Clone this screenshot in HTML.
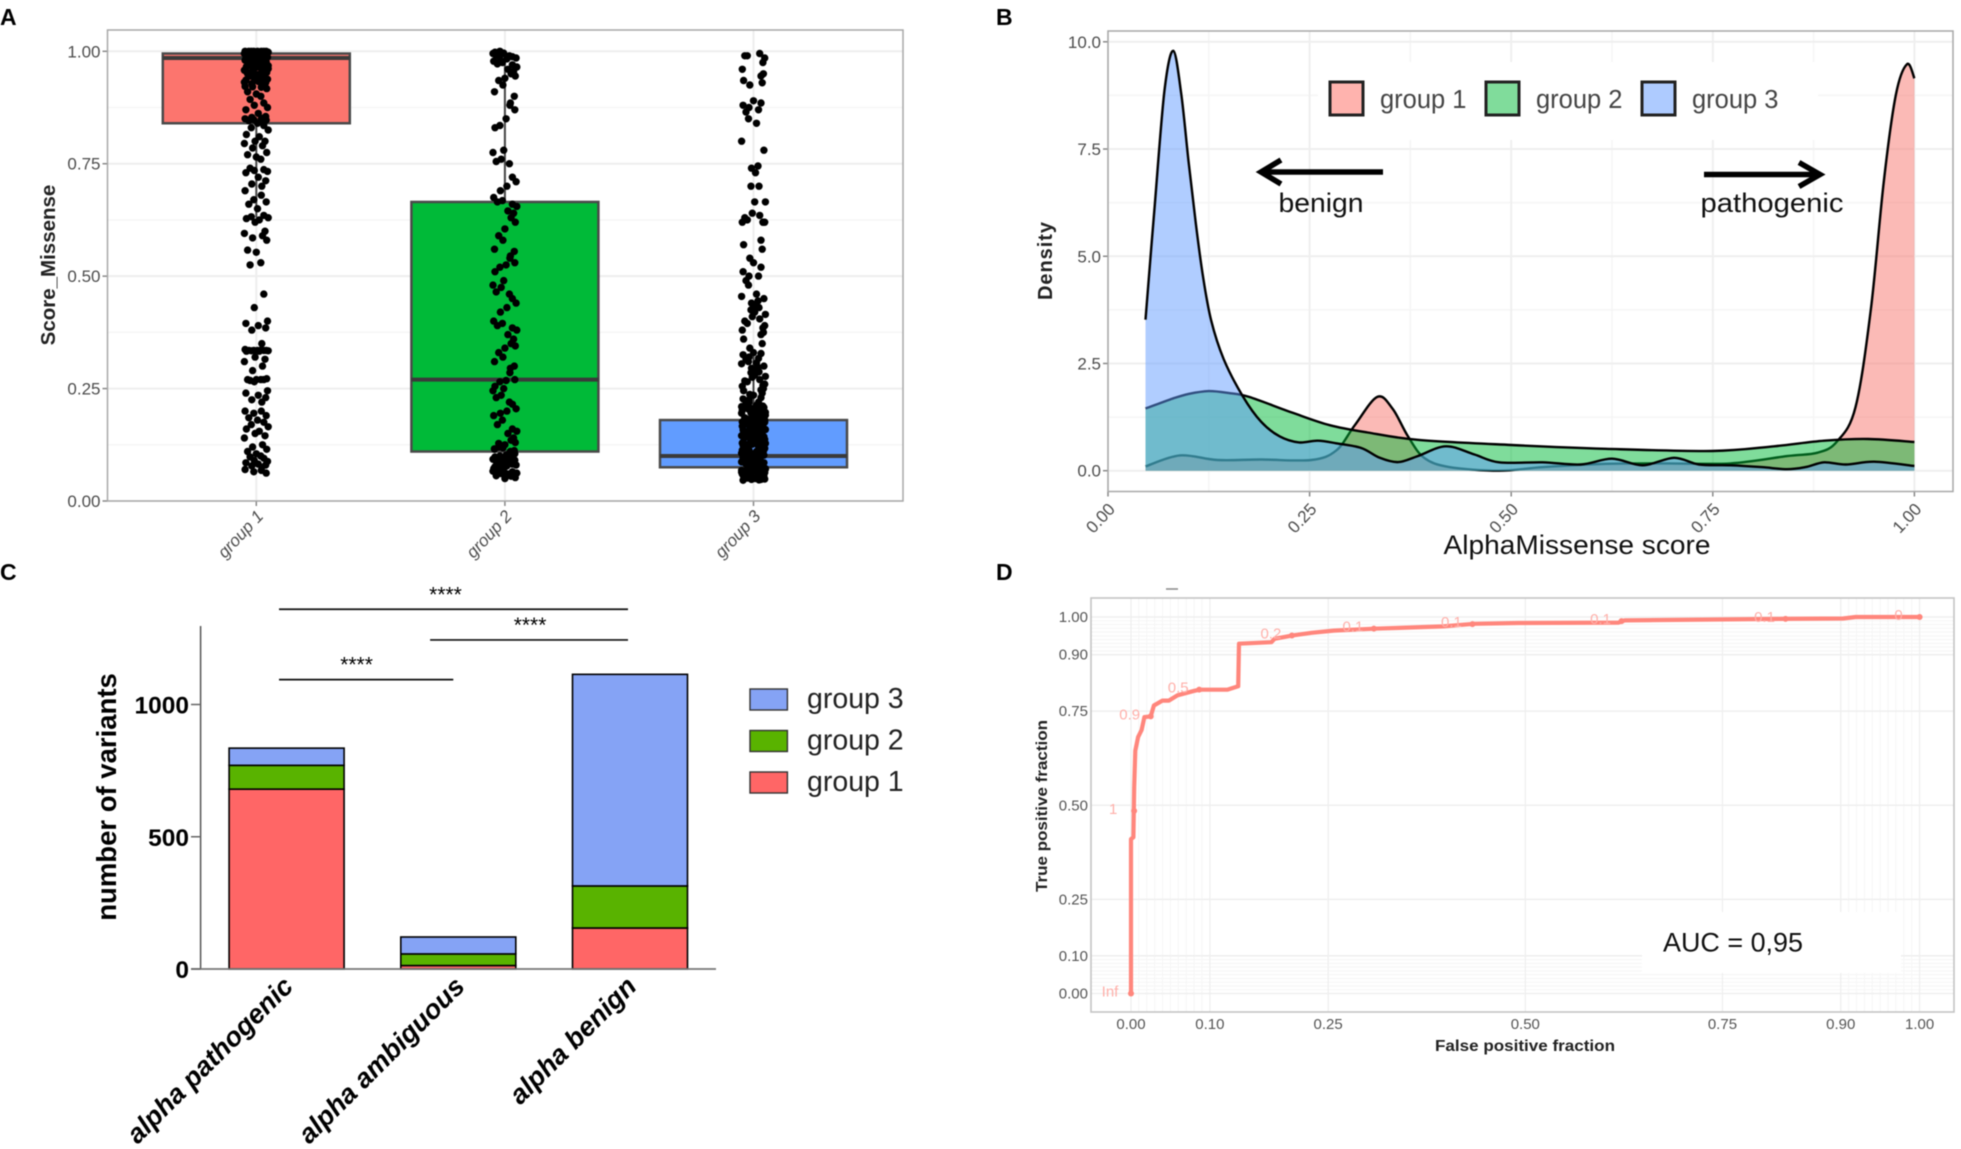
<!DOCTYPE html>
<html lang="en">
<head>
<meta charset="utf-8">
<title>AlphaMissense figure</title>
<style>
html,body{margin:0;padding:0;background:#fff}
svg{display:block;font-family:"Liberation Sans",sans-serif;filter:blur(0.4px)}
.tk{fill:#4d4d4d;font-size:17px}
.tkd{fill:#555;font-size:15px}
.panel{font-weight:700;font-size:23px;fill:#000}
.ttl{font-weight:700;fill:#222}
</style>
</head>
<body>
<svg id="fig" width="1961" height="1149" viewBox="0 0 1961 1149" xmlns="http://www.w3.org/2000/svg">
  <text class="panel" x="0" y="25">A</text>
  <text class="panel" x="996" y="25">B</text>
  <text class="panel" x="0" y="580">C</text>
  <text class="panel" x="996" y="580">D</text>
  <g id="panelA"></g>
  <g id="panelB"></g>
  <g id="panelC"></g>
  <g id="panelD"></g>
</svg>
<script>
/* ---------- Panel A data ---------- */
const boxGroups = ["group 1","group 2","group 3"];
const boxQ1 = [0.84,0.11,0.075];
const boxMedian = [0.985,0.27,0.10];
const boxQ3 = [0.995,0.665,0.18];
const whiskerLow = [0.63,0.05,0.05];
const whiskerHigh = [1,1,0.33];
const boxColors = ["#FC756E","#00BA38","#619CFF"];
const boxTicks = [0,0.25,0.5,0.75,1];
const jitterCycle = [-.045,.02,-.01,.04,-.03,.005,.03,-.02,.048,-.04,.012,-.005,.035,-.048,.025,-.015,.042,-.035,0,.018,-.025,.03,-.008,.045,-.042,.008,.038,-.018,.022];
const scoresGroup1 = [1,1,1,1,1,1,1,1,.998,.998,.997,.997,.996,.995,.995,.994,.993,.992,.991,.99,.99,.989,.988,.987,.986,.985,.984,.983,.982,.98,.98,.978,.977,.975,.974,.972,.97,.968,.966,.965,.963,.96,.958,.956,.955,.953,.95,.948,.946,.945,.943,.94,.938,.936,.933,.93,.928,.925,.922,.92,.996,.99,.984,.979,.973,.967,.961,.955,.949,.943,.937,.931,.926,.921,.917,.91,.905,.9,.893,.885,.88,.875,.87,.862,.855,.853,.851,.85,.849,.848,.847,.846,.84,.835,.83,.825,.815,.81,.8,.8,.795,.79,.785,.775,.77,.765,.76,.74,.737,.735,.733,.73,.72,.712,.705,.7,.69,.68,.67,.665,.66,.65,.635,.632,.63,.628,.625,.62,.6,.595,.59,.585,.58,.558,.553,.53,.525,.46,.43,.4,.395,.39,.385,.38,.35,.337,.336,.335,.335,.335,.335,.335,.334,.334,.333,.333,.32,.315,.31,.3,.29,.272,.27,.27,.27,.268,.27,.265,.245,.24,.235,.23,.225,.22,.2,.2,.195,.19,.185,.18,.175,.17,.165,.16,.155,.15,.145,.14,.125,.12,.115,.11,.105,.1,.098,.095,.09,.088,.085,.082,.08,.078,.075,.07,.068,.065,.062];
const scoresGroup2 = [1,.998,.996,.995,.993,.99,.99,.988,.985,.983,.98,.978,.975,.972,.97,.965,.96,.955,.95,.945,.94,.935,.925,.91,.9,.885,.88,.87,.85,.835,.83,.78,.775,.76,.755,.75,.72,.71,.7,.69,.675,.668,.665,.66,.655,.645,.64,.63,.62,.605,.59,.58,.56,.555,.545,.54,.53,.525,.52,.51,.49,.48,.475,.465,.46,.45,.44,.43,.42,.4,.395,.39,.385,.38,.37,.36,.35,.345,.34,.33,.32,.31,.3,.295,.285,.27,.268,.265,.255,.25,.245,.235,.23,.22,.215,.205,.2,.195,.19,.18,.17,.16,.155,.15,.14,.135,.13,.125,.12,.118,.115,.112,.11,.108,.105,.102,.1,.098,.095,.093,.09,.088,.085,.082,.08,.078,.075,.072,.07,.068,.065,.062,.06,.058,.055,.052,.05,.128,.122,.116,.109,.103,.097,.091,.086,.081,.076,.071,.066,.061,.056];
const scoresGroup3 = [.995,.99,.99,.985,.975,.96,.95,.945,.935,.93,.925,.89,.885,.88,.875,.87,.865,.85,.84,.8,.78,.745,.74,.73,.7,.7,.665,.665,.64,.635,.63,.625,.62,.62,.62,.62,.58,.57,.56,.54,.53,.52,.51,.5,.5,.49,.48,.46,.455,.45,.445,.44,.435,.43,.425,.42,.415,.41,.405,.4,.395,.39,.385,.38,.375,.37,.36,.35,.34,.33,.328,.325,.32,.317,.315,.31,.307,.305,.3,.297,.295,.29,.287,.285,.28,.277,.275,.27,.267,.265,.26,.257,.255,.25,.247,.245,.24,.237,.235,.23,.227,.225,.22,.218,.215,.213,.21,.208,.205,.203,.2,.198,.196,.194,.191,.189,.187,.185,.182,.18,.178,.176,.174,.171,.169,.167,.165,.163,.16,.158,.156,.154,.151,.149,.147,.145,.143,.14,.138,.136,.134,.132,.13,.128,.126,.123,.121,.119,.117,.115,.113,.111,.109,.107,.105,.103,.101,.099,.097,.096,.094,.092,.09,.088,.087,.085,.083,.081,.079,.078,.076,.074,.072,.07,.069,.067,.065,.063,.062,.06,.058,.057,.055,.053,.052,.05,.048,.046,.219,.214,.209,.204,.199,.195,.19,.186,.181,.177,.172,.168,.164,.159,.155,.15,.146,.142,.137,.133,.129,.125,.12,.116,.112,.108,.104,.1,.095,.091,.086,.082,.077,.073,.068,.064,.059,.054,.05,.047,.206,.201,.197,.193,.188,.184,.179,.175,.17,.166,.161,.157,.153,.148,.144,.139,.135,.131,.127,.122,.118,.114,.11,.106,.102,.098,.093,.089,.084,.08,.075,.071,.066,.061,.056,.051,.049,.211,.202,.192,.183,.173,.162,.152,.141,.13,.124,.113,.103,.094,.083,.074,.064,.055,.051,.048];
const scoreSeries = [scoresGroup1,scoresGroup2,scoresGroup3];

/* ---------- Panel B data ---------- */
const densityTicksY = [0,2.5,5,7.5,10];
const densityTicksX = [0,0.25,0.5,0.75,1];
const densityGridMinorY = [1.25,3.75,6.25,8.75];
const densityGridMinorX = [0.125,0.375,0.625,0.875];
const densityNames = ["group 1","group 2","group 3"];
const densityFills = ["rgba(248,118,109,0.5)","rgba(0,186,56,0.5)","rgba(97,156,255,0.5)"];
const group1X = [.0465,.089,.136,.19,.252,.283,.306,.334,.353,.372,.392,.423,.485,.54,.617,.694,.772,.842,.88,.904,.927,.946,.962,.977,.991,1];
const group1Y = [.1,.356,.25,.26,.25,.47,1.06,1.72,1.44,.8,.3,.085,0,.085,.16,.17,.17,.34,.42,.68,1.48,3.77,6.74,8.77,9.48,9.15];
const group2X = [.0465,.08,.1,.125,.15,.175,.229,.275,.322,.384,.5,.617,.749,.826,.888,.943,1];
const group2Y = [1.45,1.68,1.79,1.855,1.81,1.72,1.35,1.06,.89,.72,.6,.51,.46,.57,.7,.74,.67];
const group3X = [.0465,.058,.07,.081,.091,.1,.109,.118,.128,.1435,.167,.19,.213,.237,.26,.283,.314,.337,.36,.384,.419,.454,.485,.539,.586,.625,.663,.702,.733,.772,.81,.842,.865,.888,.915,.95,1];
const group3Y = [3.52,6.2,8.85,9.79,8.76,7.2,5.75,4.5,3.5,2.6,1.74,1.14,.8,.66,.7,.64,.53,.3,.2,.34,.57,.38,.195,.195,.144,.28,.127,.3,.144,.127,.085,.034,.085,.195,.144,.21,.11];
const densityXs = [group1X,group2X,group3X];
const densityYs = [group1Y,group2Y,group3Y];

/* ---------- Panel C data ---------- */
const barCategories = ["alpha pathogenic","alpha ambiguous","alpha benign"];
const barGroup1 = [680,13,155];
const barGroup2 = [90,44,159];
const barGroup3 = [65,64,800];
const barStacks = [barGroup1,barGroup2,barGroup3];
const barColors = ["#FF6666","#59B300","#85A3F5"];
const barTicks = [0,500,1000];
const barLegend = ["group 3","group 2","group 1"];
const barLegendColors = ["#85A3F5","#59B300","#FF6666"];
const sigFrom = [0,0.88,0];
const sigTo = [2,2,1];
const sigLevel = [1360,1244,1094];

/* ---------- Panel D data ---------- */
const rocFpr = [0,0,.003,.004,.0055,.009,.0135,.017,.025,.029,.04,.048,.059,.0785,.0865,.122,.136,.137,.178,.182,.205,.229,.257,.308,.396,.435,.491,.618,.626,.824,.903,.919,1];
const rocTpr = [0,.41,.415,.548,.645,.681,.7,.734,.736,.765,.778,.778,.792,.803,.807,.807,.816,.929,.933,.942,.951,.958,.964,.969,.975,.982,.984,.985,.991,.995,.996,1,1];
const cutFpr = [0,.004,.025,.0865,.204,.308,.433,.622,.83,1];
const cutTpr = [0,.485,.736,.807,.951,.969,.981,.989,.995,1];
const cutLabels = ["Inf","1","0.9","0.5","0.2","0.1","0.1","0.1","0.1","0"];
const rocTicks = [0,0.1,0.25,0.5,0.75,0.9,1];
const rocMinor = [.01,.02,.03,.04,.05,.06,.07,.08,.09,.91,.92,.93,.94,.95,.96,.97,.98,.99];

/* ---------- helpers ---------- */
const NS = "http://www.w3.org/2000/svg";
function mk(parent, tag, props){
  const e = document.createElementNS(NS, tag);
  for (const k in props) e.setAttribute(k, props[k]);
  parent.appendChild(e);
  return e;
}
function fmt2(v){ return v.toFixed(2); }
function smooth(xs, ys, sx, sy){
  const p = xs.map((x,i)=>[sx(x), sy(ys[i])]);
  let d = "M"+p[0][0].toFixed(1)+" "+p[0][1].toFixed(1);
  for (let i=0;i<p.length-1;i++){
    const a=p[Math.max(i-1,0)], b=p[i], c=p[i+1], e=p[Math.min(i+2,p.length-1)];
    const c1=[b[0]+(c[0]-a[0])/6, b[1]+(c[1]-a[1])/6];
    const c2=[c[0]-(e[0]-b[0])/6, c[1]-(e[1]-b[1])/6];
    d+=" C"+c1[0].toFixed(1)+" "+c1[1].toFixed(1)+" "+c2[0].toFixed(1)+" "+c2[1].toFixed(1)+" "+c[0].toFixed(1)+" "+c[1].toFixed(1);
  }
  return d;
}

/* ---------- Panel A ---------- */
(function(){
  const g = document.getElementById("panelA");
  const xA = i => 256.3 + 248.6*i;
  const yA = v => 501 - 449.7*v;
  const L=107.5,R=903,T=30,B=501;
  for (let k=0;k<boxTicks.length-1;k++){
    const mid=(boxTicks[k]+boxTicks[k+1])/2;
    const m=mk(g,"line",{x1:L,x2:R,y1:yA(mid),y2:yA(mid),stroke:"#f6f6f6","stroke-width":1.5});
    
    
  }
  boxTicks.forEach(v=>{
    const m=mk(g,"line",{x1:L,x2:R,y1:yA(v),y2:yA(v),stroke:"#eeeeee","stroke-width":2});
    
    
    const t=mk(g,"line",{x1:L-5,x2:L,y1:yA(v),y2:yA(v),stroke:"#888","stroke-width":1.5});
    
    
    const l=mk(g,"text",{x:L-7,y:yA(v)+6,"text-anchor":"end","class":"tk"});
    
    
    l.textContent=fmt2(v);
  });
  boxGroups.forEach((n,i)=>{
    const m=mk(g,"line",{x1:xA(i),x2:xA(i),y1:T,y2:B,stroke:"#eeeeee","stroke-width":2});
    
    
    const t=mk(g,"line",{x1:xA(i),x2:xA(i),y1:B,y2:B+5,stroke:"#888","stroke-width":1.5});
    
    
    const l=mk(g,"text",{x:xA(i)+8,y:517,"text-anchor":"end","class":"tk","font-style":"italic",transform:"rotate(-47 "+(xA(i)+8)+" 517)"});
    
    
    l.textContent=n;
  });
  const frame=mk(g,"rect",{x:L,y:T,width:R-L,height:B-T,fill:"none",stroke:"#a8a8a8","stroke-width":1.5});
  
  
  boxGroups.forEach((n,i)=>{
    const cx=xA(i), hw=93.5;
    const w=mk(g,"line",{x1:cx,x2:cx,y1:yA(whiskerLow[i]),y2:yA(whiskerHigh[i]),stroke:"#444","stroke-width":2});
    
    
    const r=mk(g,"rect",{x:cx-hw,y:yA(boxQ3[i]),width:2*hw,height:yA(boxQ1[i])-yA(boxQ3[i]),fill:boxColors[i],stroke:"#4a4a4a","stroke-width":2.5});
    
    
    const md=mk(g,"line",{x1:cx-hw,x2:cx+hw,y1:yA(boxMedian[i]),y2:yA(boxMedian[i]),stroke:"#3a3a3a","stroke-width":4});
    
    
  });
  scoreSeries.forEach((arr,i)=>{
    arr.forEach((s,j)=>{
      const off=jitterCycle[(j*(i+1)+i*7)%jitterCycle.length];
      const c=mk(g,"circle",{cx:(xA(i+off)).toFixed(1),cy:yA(s).toFixed(1),r:3.7,fill:"#000"});
      
      
    });
  });
  const yt=mk(g,"text",{x:0,y:0,"class":"ttl","font-size":20.5,"text-anchor":"middle",transform:"translate(55 265) rotate(-90)"});
  
  
  yt.textContent="Score_Missense";
})();

/* ---------- Panel B ---------- */
(function(){
  const g = document.getElementById("panelB");
  const xB = v => 1108 + 806.4*v;
  const yB = v => 470.7 - 42.89*v;
  const L=1108,R=1953,T=31,B=491.5;
  densityGridMinorY.forEach(v=>{
    const m=mk(g,"line",{x1:L,x2:R,y1:yB(v),y2:yB(v),stroke:"#f5f5f5","stroke-width":1.5});
    
    
  });
  densityGridMinorX.forEach(v=>{
    const m=mk(g,"line",{x1:xB(v),x2:xB(v),y1:T,y2:B,stroke:"#f5f5f5","stroke-width":1.5});
    
    
  });
  densityTicksX.forEach(v=>{
    const m=mk(g,"line",{x1:xB(v),x2:xB(v),y1:T,y2:B,stroke:"#efefef","stroke-width":2});
    
    
    const t=mk(g,"line",{x1:xB(v),x2:xB(v),y1:B,y2:B+5,stroke:"#888","stroke-width":1.5});
    
    
    const px=xB(v)+8;
    const l=mk(g,"text",{x:px,y:510,"text-anchor":"end","class":"tk",transform:"rotate(-47 "+px+" 510)"});
    
    
    l.textContent=fmt2(v);
  });
  densityTicksY.forEach(v=>{
    const m=mk(g,"line",{x1:L,x2:R,y1:yB(v),y2:yB(v),stroke:"#efefef","stroke-width":2});
    
    
    const t=mk(g,"line",{x1:L-5,x2:L,y1:yB(v),y2:yB(v),stroke:"#888","stroke-width":1.5});
    
    
    const l=mk(g,"text",{x:L-7,y:yB(v)+6,"text-anchor":"end","class":"tk"});
    
    
    l.textContent=v.toFixed(1);
  });
  const white=mk(g,"rect",{x:1318,y:62,width:500,height:78,fill:"#fff"});
  
  
  const frame=mk(g,"path",{d:"M"+L+" "+T+"H"+R+"V"+B+"H"+L+"Z",fill:"none",stroke:"#a8a8a8","stroke-width":1.5});
  
  
  densityNames.forEach((n,i)=>{
    const xs=densityXs[i], ys=densityYs[i];
    const line=smooth(xs,ys,xB,yB);
    const area=line+" L"+xB(xs[xs.length-1]).toFixed(1)+" "+yB(0).toFixed(1)+" L"+xB(xs[0]).toFixed(1)+" "+yB(0).toFixed(1)+"Z";
    const a=mk(g,"path",{d:area,fill:densityFills[i],stroke:"none"});
    
    
    const o=mk(g,"path",{d:line,fill:"none",stroke:"#000","stroke-width":2.4});
    
    
  });
  const legX=[1329,1485,1641];
  const legC=["#FFB3AE","#80DC9B","#AECBFF"];
  densityNames.forEach((n,i)=>{
    const s=mk(g,"rect",{x:legX[i]+1,y:82,width:33,height:33,fill:legC[i],stroke:"#222","stroke-width":3});
    
    
    const t=mk(g,"text",{x:legX[i]+51,y:108,"font-size":25.5,fill:"#444"});
    
    
    t.textContent=n;
  });
  const a1=mk(g,"path",{d:"M1383 172H1262M1281 160L1261 172L1281 184",fill:"none",stroke:"#000","stroke-width":5.5});
  
  
  const a2=mk(g,"path",{d:"M1704 174.5H1818M1799 162.5L1820 174.5L1799 186.5",fill:"none",stroke:"#000","stroke-width":5.5});
  
  
  const b=mk(g,"text",{x:1321,y:212,"text-anchor":"middle","font-size":27,fill:"#111",textLength:85,lengthAdjust:"spacingAndGlyphs"});
  
  
  b.textContent="benign";
  const p=mk(g,"text",{x:1772,y:212,"text-anchor":"middle","font-size":27,fill:"#111",textLength:143,lengthAdjust:"spacingAndGlyphs"});
  
  
  p.textContent="pathogenic";
  const xt=mk(g,"text",{x:1577,y:554,"text-anchor":"middle","font-size":27,fill:"#111",textLength:267,lengthAdjust:"spacingAndGlyphs"});
  
  
  xt.textContent="AlphaMissense score";
  const yt=mk(g,"text",{x:0,y:0,"class":"ttl","font-size":20,"text-anchor":"middle",textLength:78,transform:"translate(1052 261) rotate(-90)"});
  
  
  yt.textContent="Density";
})();

/* ---------- Panel C ---------- */
(function(){
  const g = document.getElementById("panelC");
  const xC = i => 286.6 + 171.7*i;
  const yC = v => 969 - 0.2645*v;
  const halfBar=57.5;
  barCategories.forEach((n,i)=>{
    let acc=0;
    barStacks.forEach((s,k)=>{
      const top=yC(acc+s[i]), bot=yC(acc);
      const r=mk(g,"rect",{x:xC(i)-halfBar,y:top,width:2*halfBar,height:bot-top,fill:barColors[k],stroke:"#000","stroke-width":1.6});
      
      
      acc+=s[i];
    });
    const lx=xC(i)+8;
    const l=mk(g,"text",{x:lx,y:988,"text-anchor":"end","font-size":27,"font-weight":700,"font-style":"italic",fill:"#000",transform:"rotate(-45 "+lx+" 988)"});
    
    
    l.textContent=n;
  });
  const ax=mk(g,"line",{x1:200.6,x2:200.6,y1:626,y2:969,stroke:"#555","stroke-width":1.5});
  
  
  const bx=mk(g,"line",{x1:191,x2:716,y1:969,y2:969,stroke:"#777","stroke-width":1.8});
  
  
  barTicks.forEach(v=>{
    const t=mk(g,"line",{x1:191,x2:200.6,y1:yC(v),y2:yC(v),stroke:"#666","stroke-width":1.5});
    
    
    const l=mk(g,"text",{x:189,y:yC(v)+9,"text-anchor":"end","font-size":24.5,"font-weight":700,fill:"#000"});
    
    
    l.textContent=String(v);
  });
  const yt=mk(g,"text",{x:0,y:0,"font-size":27.5,"font-weight":700,"text-anchor":"middle",fill:"#000",transform:"translate(116 797) rotate(-90)"});
  
  
  yt.textContent="number of variants";
  sigLevel.forEach((lv,i)=>{
    const x1=xC(sigFrom[i])-7.6, x2=xC(sigTo[i])-(i===2?5:2);
    const ln=mk(g,"line",{x1:x1,x2:x2,y1:yC(lv),y2:yC(lv),stroke:"#111","stroke-width":1.7});
    
    
    const st=mk(g,"text",{x:(x1+x2)/2+(i===0?-8:(i===1?1:-9.6)),y:yC(lv)-8,"text-anchor":"middle","font-size":21,fill:"#000"});
    
    
    st.textContent="****";
  });
  barLegend.forEach((n,i)=>{
    const yy=689+41.5*i;
    const s=mk(g,"rect",{x:750,y:yy,width:37.4,height:21,fill:barLegendColors[i],stroke:"#333","stroke-width":1.4});
    
    
    const t=mk(g,"text",{x:807,y:yy+19,"font-size":28.5,fill:"#222"});
    
    
    t.textContent=n;
  });
})();

/* ---------- Panel D ---------- */
(function(){
  const g = document.getElementById("panelD");
  const xD = v => 1131 + 788.6*v;
  const yD = v => 993.5 - 376.5*v;
  const L=1091,R=1954,T=598,B=1012;
  rocMinor.forEach(v=>{
    const h=mk(g,"line",{x1:L,x2:R,y1:yD(v),y2:yD(v),stroke:"#f5f5f5","stroke-width":1});
    
    
    const u=mk(g,"line",{x1:xD(v),x2:xD(v),y1:T,y2:B,stroke:"#f6f6f6","stroke-width":1});
    
    
  });
  rocTicks.forEach(v=>{
    const h=mk(g,"line",{x1:L,x2:R,y1:yD(v),y2:yD(v),stroke:"#efefef","stroke-width":1.6});
    
    
    const u=mk(g,"line",{x1:xD(v),x2:xD(v),y1:T,y2:B,stroke:"#efefef","stroke-width":1.3});
    
    
    const yl=mk(g,"text",{x:1088,y:yD(v)+5,"text-anchor":"end","class":"tkd"});
    
    
    yl.textContent=fmt2(v);
    const xl=mk(g,"text",{x:xD(v),y:1029,"text-anchor":"middle","class":"tkd"});
    
    
    xl.textContent=fmt2(v);
  });
  const white=mk(g,"rect",{x:1642,y:912,width:259,height:61,fill:"#fff"});
  
  
  const frame=mk(g,"rect",{x:L,y:T,width:R-L,height:B-T,fill:"none",stroke:"#c4c4c4","stroke-width":1.6});
  
  
  const dash=mk(g,"line",{x1:1166,x2:1178,y1:589,y2:589,stroke:"#888","stroke-width":1.5});
  
  
  const pts=rocFpr.map((f,i)=>xD(f).toFixed(1)+","+yD(rocTpr[i]).toFixed(1)).join(" ");
  const line=mk(g,"polyline",{points:pts,fill:"none",stroke:"#FF867C","stroke-width":4.2,"stroke-linejoin":"round"});
  
  
  cutLabels.forEach((n,i)=>{
    const c=mk(g,"circle",{cx:xD(cutFpr[i]),cy:yD(cutTpr[i]),r:3,fill:"#FF867C"});
    
    
    const t=mk(g,"text",{x:xD(cutFpr[i])-21,y:yD(cutTpr[i])+3,"text-anchor":"middle","font-size":15,fill:"#FFB0AA"});
    
    
    t.textContent=n;
  });
  const auc=mk(g,"text",{x:1663,y:951.5,"font-size":27,fill:"#111",textLength:140,lengthAdjust:"spacingAndGlyphs"});
  
  
  auc.textContent="AUC = 0,95";
  const xt=mk(g,"text",{x:1525,y:1051,"class":"ttl","font-size":16,"text-anchor":"middle",textLength:180,lengthAdjust:"spacingAndGlyphs"});
  
  
  xt.textContent="False positive fraction";
  const yt=mk(g,"text",{x:0,y:0,"class":"ttl","font-size":16,"text-anchor":"middle",textLength:172,lengthAdjust:"spacingAndGlyphs",transform:"translate(1047 806) rotate(-90)"});
  
  
  yt.textContent="True positive fraction";
})();
</script>
</body>
</html>
